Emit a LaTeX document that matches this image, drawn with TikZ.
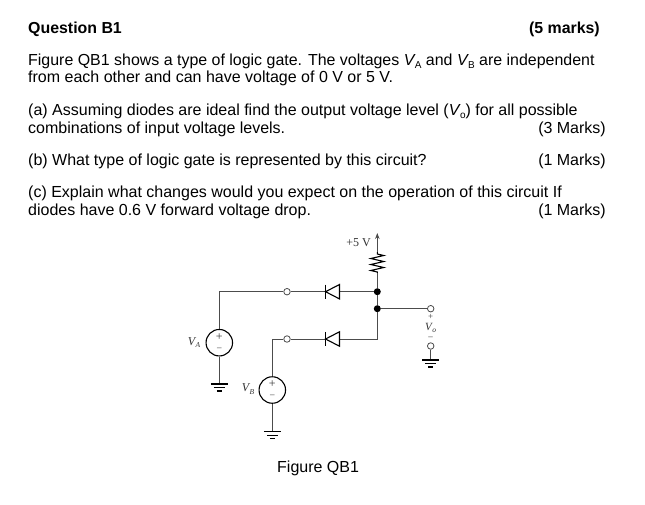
\documentclass[tikz,border=0pt]{standalone}
\usepackage{fontspec}
\setmainfont{Liberation Sans}
\newfontfamily\circfont{Liberation Serif}
\usetikzlibrary{arrows.meta}
\tikzset{
	txt/.style={anchor=base west,inner sep=0pt,font=\fontsize{16}{16}\selectfont},
	txtr/.style={anchor=base east,inner sep=0pt,font=\fontsize{16}{16}\selectfont},
	wire/.style={draw=black!70,line width=1pt},
	term/.style={circle,draw=black!70,fill=white,line width=0.8pt,minimum size=6.5pt,inner sep=0pt},
	junc/.style={circle,fill=black,minimum size=7pt,inner sep=0pt},
	src/.style={circle,draw=black,line width=1.1pt,minimum size=26.5pt,inner sep=0pt},
	diobox/.style={minimum width=13.5pt,minimum height=14pt,inner sep=0pt},
	clabel/.style={inner sep=0pt,text=black!80,font=\circfont\fontsize{12}{12}\selectfont},
	csign/.style={inner sep=0pt,text=black!80,font=\circfont\fontsize{9}{9}\selectfont}
}
\newcommand{\sub}[1]{\kern-0.05em\raisebox{-0.2em}{\fontsize{10}{10}\selectfont #1}}
\newcommand{\csub}[1]{\kern-0.05em\raisebox{-0.2em}{\fontsize{7.5}{7.5}\selectfont\textit{#1}}}
\begin{document}
\begin{tikzpicture}[x=1pt,y=-1pt]
	\useasboundingbox (0,0) rectangle (645,504);
	% text of the question
	\node[txt,font=\fontsize{15.9}{16}\selectfont\bfseries] (title) at (28,33) {Question B1};
	\node[txtr,font=\fontsize{15.9}{16}\selectfont\bfseries] (marks) at (600,33) {(5 marks)};
	\node[txt,font=\fontsize{15.95}{16}\selectfont] (la) at (28,65) {Figure QB1 shows a type of logic gate. The voltages \textit{V}\sub{A} and \textit{V}\sub{B} are independent};
	\node[txt] (lb) at (28,82.5) {from each other and can have voltage of 0 V or 5 V.};
	\node[txt] (lc) at (28,115) {(a) Assuming diodes are ideal find the output voltage level (\textit{V}\sub{o}) for all possible};
	\node[txt] (ld) at (28,133) {combinations of input voltage levels.};
	\node[txtr] (ma) at (606,133) {(3 Marks)};
	\node[txt] (le) at (28,165) {(b) What type of logic gate is represented by this circuit?};
	\node[txtr] (mb) at (606,165) {(1 Marks)};
	\node[txt] (lf) at (28,197) {(c) Explain what changes would you expect on the operation of this circuit If};
	\node[txt] (lg) at (28,215) {diodes have 0.6 V forward voltage drop.};
	\node[txtr] (mc) at (606,215) {(1 Marks)};
	\node[txt] (fig) at (277,472) {Figure QB1};
	% circuit
	\coordinate (top) at (377.3,233);
	\coordinate (rtop) at (377.3,252);
	\coordinate (rbot) at (377.3,273);
	\node[junc] (ja) at (377.3,291.7) {};
	\node[junc] (jb) at (377.3,308.7) {};
	\coordinate (jc) at (377.3,339);
	\coordinate (ca) at (219.3,291.7);
	\coordinate (cb) at (272.3,339);
	\node[diobox] (dioA) at (332.5,291.7) {};
	\node[diobox] (dioB) at (332.5,339) {};
	\node[term] (inA) at (287,291.7) {};
	\node[term] (inB) at (287,339) {};
	\node[term] (outp) at (430.7,308.7) {};
	\node[term] (outm) at (430.7,346) {};
	\node[src] (srcA) at (219.3,342.7) {};
	\node[src] (srcB) at (272.3,390) {};
	\coordinate (gndA) at (219.3,384);
	\coordinate (gndB) at (272.3,431.7);
	\coordinate (gndO) at (430.7,360);
	\draw[wire,-{Stealth[length=6pt,width=4.5pt]}] (rtop) -- (top);
	\draw[wire,draw=black,line width=1.1pt] (rtop) -- ++(0,2) -- ++(6.5,1.5) -- ++(-13,3) -- ++(13,3) -- ++(-13,3) -- ++(13,3) -- ++(-13,3) -- ++(6.5,1.5) -- (rbot);
	\draw[wire] (rbot) -- (ja) -- (jb) -- (jc) -- (dioB.east);
	\draw[wire] (ja) -- (dioA.east);
	\draw[wire] (jb) -- (outp);
	\draw[wire] (dioA.west) -- (inA) -- (ca) -- (srcA);
	\draw[wire] (dioB.west) -- (inB) -- (cb) -- (srcB);
	\draw[wire] (srcA) -- (gndA);
	\draw[wire] (srcB) -- (gndB);
	\draw[wire] (outm) -- (gndO);
	\foreach \n in {dioA,dioB}{
		\draw[line width=1.1pt,fill=white] (\n.west) -- (\n.north east) -- (\n.south east) -- cycle;
		\draw[line width=1.1pt] (\n.north west) -- (\n.south west);
	}
	\foreach \n in {gndA,gndB,gndO}{
		\draw[line width=1.1pt,shift={(\n)}] (-8.5,0) -- (8.5,0) (-5.5,3.5) -- (5.5,3.5) (-2.5,7) -- (2.5,7);
	}
	\node[clabel] (pa) at (219.3,337) {+};
	\node[csign] (ma2) at (219.3,349) {–};
	\node[clabel] (pb) at (272.3,384) {+};
	\node[csign] (mb2) at (272.3,396.5) {–};
	\node[clabel] (lv) at (358.5,243) {+5 V};
	\node[clabel] (lA) at (194,342.5) {\textit{V}\csub{A}};
	\node[clabel] (lB) at (248,389) {\textit{V}\csub{B}};
	\node[clabel,font=\circfont\fontsize{11}{11}\selectfont] (lo) at (430.7,328) {\textit{V}\csub{o}};
	\node[csign] (op) at (430.7,317) {+};
	\node[csign] (om) at (430.7,338.5) {–};
\end{tikzpicture}
\end{document}
